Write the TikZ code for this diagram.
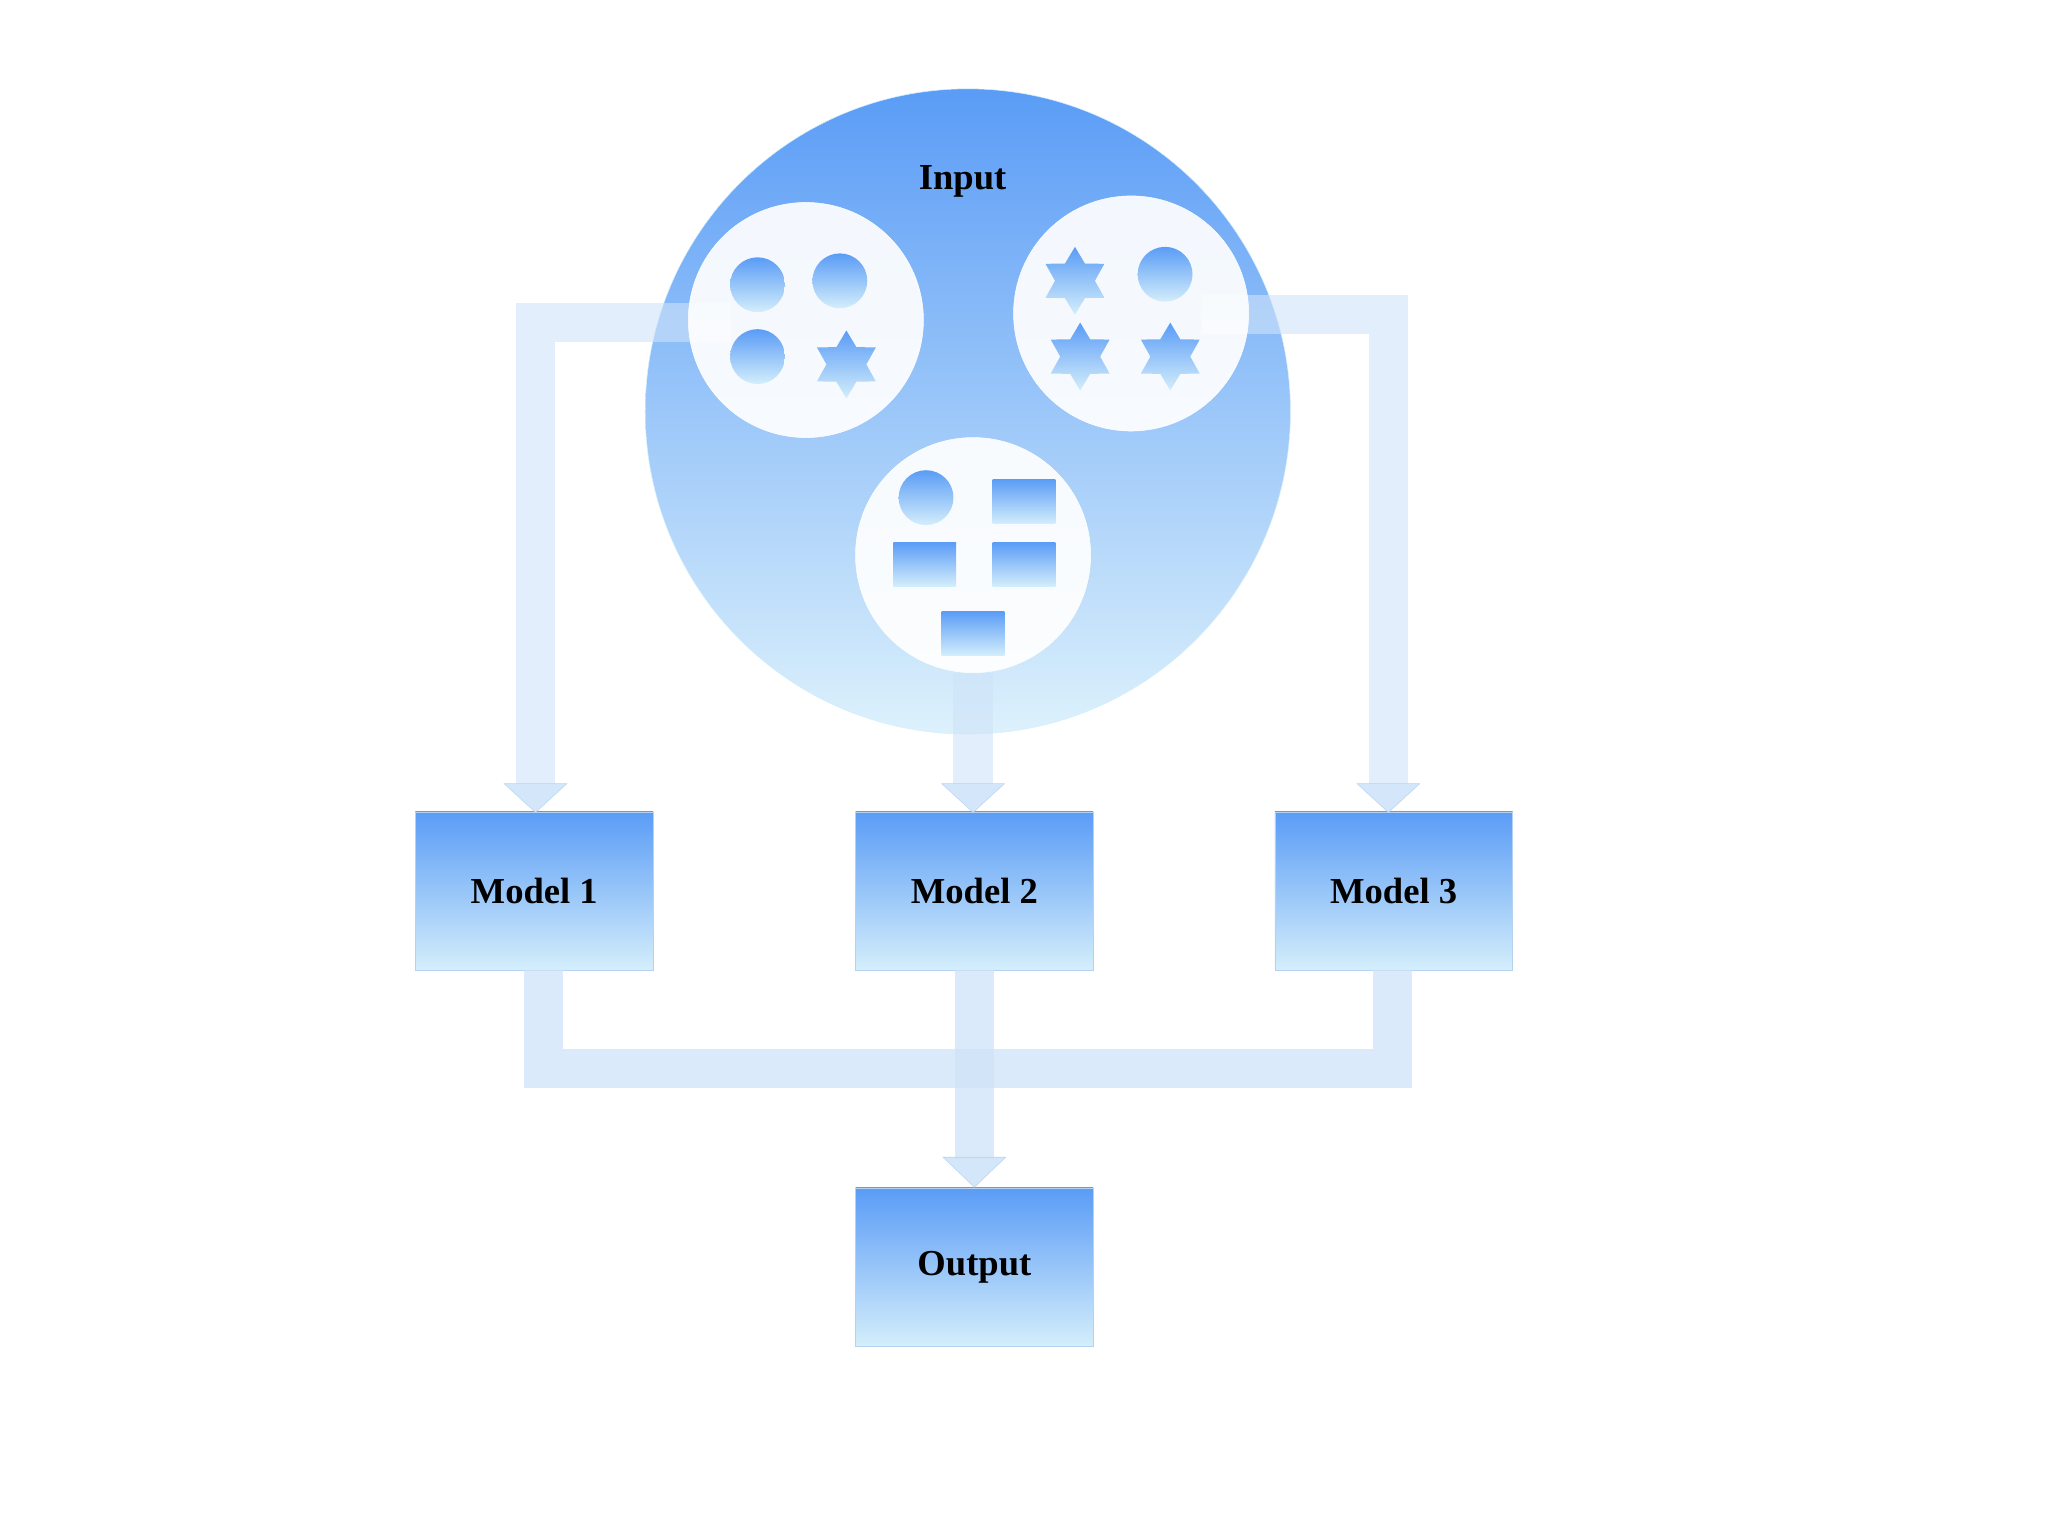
\documentclass[tikz,border=0pt]{standalone}
\usepackage{fontspec}
\setmainfont{Liberation Serif}
\usetikzlibrary{shapes.geometric,arrows.meta}
\definecolor{dblue}{HTML}{5A9CF6}
\definecolor{lblue}{HTML}{D4EEFB}
\definecolor{arr}{HTML}{CFE3F8}
\definecolor{arredge}{HTML}{B5D2F0}
\tikzset{
 box/.style={draw=arredge,top color=dblue,bottom color=lblue,minimum width=182pt,minimum height=121pt,font=\fontsize{28}{30}\selectfont\bfseries},
 sub/.style={circle,draw=white,fill=white,fill opacity=0.92,minimum size=180pt},
 dot/.style={circle,top color=dblue,bottom color=lblue,minimum size=42pt,inner sep=0pt},
 sq/.style={rectangle,top color=dblue,bottom color=lblue,minimum width=48pt,minimum height=34pt,inner sep=0pt},
 st/.style={star,star points=6,star point ratio=1.7,top color=dblue,bottom color=lblue,minimum size=52pt,inner sep=0pt},
 fat/.style={draw=arr,line width=30pt,opacity=0.6,line cap=butt,line join=miter},
 head/.style={fill=arr,draw=arredge,opacity=0.9}
}
\begin{document}
\begin{tikzpicture}[x=1pt,y=-1pt]
\useasboundingbox (0,0) rectangle (1568,1175);
% big circle
\node[circle,minimum size=494pt,top color=dblue,bottom color=lblue!80!white,draw=lblue] (inp) at (741,315) {};
\node[font=\fontsize{28}{30}\selectfont\bfseries] (inlab) at (737,139) {Input};
\coordinate (l0) at (560,247);
\coordinate (r0) at (920,241);
\draw[fat] (l0) -- (410,247) -- (410,600);
\draw[fat] (r0) -- (1063,241) -- (1063,600);
\node[sub] (c1) at (617,245) {};
\node[sub] (c2) at (866,240) {};
\node[sub] (c3) at (745,425) {};
\node[dot] (d1) at (580,218) {};
\node[dot] (d2) at (643,215) {};
\node[dot] (d3) at (580,273) {};
\node[st] (s1) at (648,279) {};
\node[st] (s2) at (823,215) {};
\node[dot] (d4) at (892,210) {};
\node[st] (s3) at (827,273) {};
\node[st] (s4) at (896,273) {};
\node[dot] (d5) at (709,381) {};
\node[sq] (q1) at (784,384) {};
\node[sq] (q2) at (708,432) {};
\node[sq] (q3) at (784,432) {};
\node[sq] (q4) at (745,485) {};
% boxes
\node[box] (m1) at (409,682) {Model 1};
\node[box] (m2) at (746,682) {Model 2};
\node[box] (m3) at (1067,682) {Model 3};
\node[box] (out) at (746,970) {Output};
% middle arrow
\draw[fat] (c3.south) -- (745,600);
% heads
\fill[head] (386,600) -- (434,600) -- (410,622) -- cycle;
\fill[head] (721,600) -- (769,600) -- (745,622) -- cycle;
\fill[head] (1039,600) -- (1087,600) -- (1063,622) -- cycle;
% bottom bus
\draw[fat,opacity=0.75] (m1.south -| 416,0) -- (416,818) -- (1066,818) -- (m3.south -| 1066,0);
\draw[fat,opacity=0.75] (m2.south) -- (746,887);
\fill[head] (722,886) -- (770,886) -- (746,909) -- cycle;
\end{tikzpicture}
\end{document}
